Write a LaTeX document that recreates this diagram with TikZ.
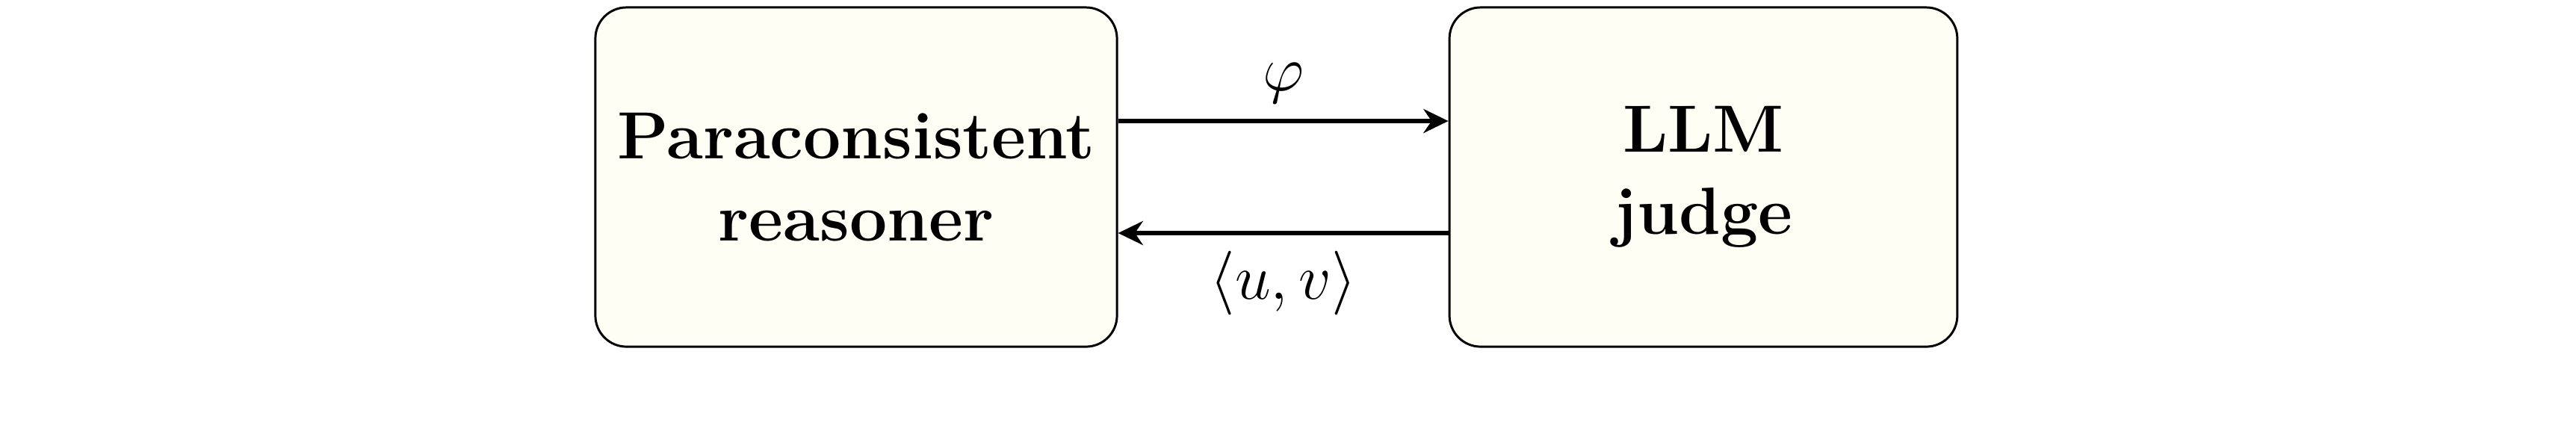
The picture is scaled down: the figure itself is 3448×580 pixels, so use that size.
\documentclass[tikz,border=0pt]{standalone}
\usetikzlibrary{arrows.meta}
\begin{document}
\begin{tikzpicture}[x=0.168pt,y=-0.168pt,
  bigfont/.style={font=\fontsize{15pt}{18.4pt}\selectfont},
  blockbox/.style={draw=black, line width=0.5pt, fill=yellow!4, rounded corners=7pt,
    align=center, font=\fontsize{15pt}{18.4pt}\selectfont\bfseries, minimum height=76.3pt, inner sep=0pt},
  flow/.style={line width=0.85pt, -{Stealth[length=5.6pt,width=5.4pt]}},
  lbl/.style={bigfont, inner sep=0.36em}]
\useasboundingbox (0,0) rectangle (3448,580);
\node[blockbox, minimum width=117.3pt] (pr) at (1146,237) {Paraconsistent\\reasoner};
\node[blockbox, minimum width=114.2pt] (lj) at (2280,237) {LLM\\judge};
\draw[flow] ([yshift=12.6pt]pr.east) -- node[lbl, above] {$\varphi$} ([yshift=12.6pt]lj.west);
\draw[flow] ([yshift=-12.6pt]lj.west) -- node[lbl, below] {$\langle u, v\rangle$} ([yshift=-12.6pt]pr.east);
\end{tikzpicture}
\end{document}
